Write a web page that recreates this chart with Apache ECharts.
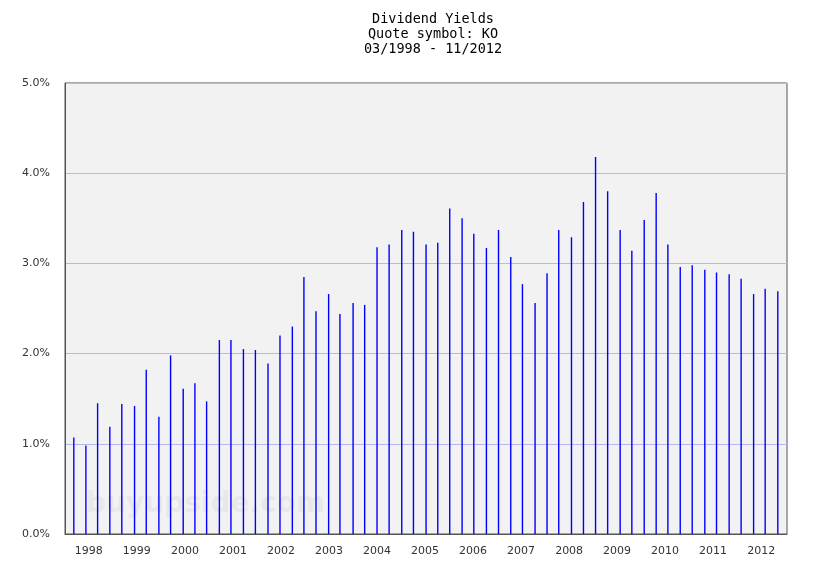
<!DOCTYPE html>
<html>
<head>
<meta charset="utf-8">
<script src="https://cdn.jsdelivr.net/npm/echarts@6/dist/echarts.min.js"></script>
<style>
  html, body { margin: 0; padding: 0; background: #fff; }
  #chart { width: 816px; height: 588px; }
</style>
</head>
<body>
<div id="chart"></div>
<script>
// dividend dates and yields in %
var dates = [
  '1998-03-09', '1998-06-09', '1998-09-06', '1998-12-08',
  '1999-03-09', '1999-06-14', '1999-09-11', '1999-12-16',
  '2000-03-14', '2000-06-18', '2000-09-15', '2000-12-13',
  '2001-03-20', '2001-06-16', '2001-09-19', '2001-12-19',
  '2002-03-25', '2002-06-24', '2002-09-26', '2002-12-23',
  '2003-03-25', '2003-06-29', '2003-09-23', '2004-01-01',
  '2004-03-29', '2004-07-01', '2004-10-01', '2005-01-05',
  '2005-04-04', '2005-07-09', '2005-10-06', '2006-01-05',
  '2006-04-09', '2006-07-07', '2006-10-11', '2007-01-11',
  '2007-04-14', '2007-07-12', '2007-10-16', '2008-01-15',
  '2008-04-13', '2008-07-19', '2008-10-18', '2009-01-18',
  '2009-04-20', '2009-07-24', '2009-10-21', '2010-01-23',
  '2010-04-24', '2010-07-22', '2010-10-24', '2011-01-23',
  '2011-04-29', '2011-07-27', '2011-10-31', '2012-01-30',
  '2012-05-04', '2012-07-31', '2012-11-04'
];
var yields = [
  1.07, 0.98, 1.45, 1.19, 1.44, 1.42, 1.82, 1.30,
  1.98, 1.61, 1.67, 1.47, 2.15, 2.15, 2.05, 2.04,
  1.89, 2.20, 2.30, 2.85, 2.47, 2.66, 2.44, 2.56,
  2.54, 3.18, 3.21, 3.37, 3.35, 3.21, 3.23, 3.61,
  3.50, 3.33, 3.17, 3.37, 3.07, 2.77, 2.56, 2.89,
  3.37, 3.29, 3.68, 4.18, 3.80, 3.37, 3.14, 3.48,
  3.78, 3.21, 2.96, 2.98, 2.93, 2.90, 2.88, 2.83,
  2.66, 2.72, 2.69
];
var years = [1998, 1999, 2000, 2001, 2002, 2003, 2004, 2005, 2006, 2007, 2008, 2009, 2010, 2011, 2012];
var yTicks = [0, 1, 2, 3, 4, 5];

function ts(s) {
  return new Date(s + 'T00:00:00Z').getTime();
}

var chart = echarts.init(document.getElementById('chart'));

var seriesData = dates.map(function (d, i) {
  return [ts(d), yields[i]];
});
// year labels sit in the middle of each year
var yearMid = years.map(function (y) {
  return Date.UTC(y, 6, 1);
});

var option = {
  backgroundColor: '#ffffff',
  animation: false,
  title: {
    text: 'Dividend Yields\nQuote symbol: KO\n03/1998 - 11/2012',
    left: 428,
    textAlign: 'center',
    top: 7,
    textStyle: {
      fontFamily: 'DejaVu Sans Mono',
      fontSize: 13.5,
      fontWeight: 'normal',
      color: '#000',
      lineHeight: 15
    }
  },
  grid: {
    left: 65,
    top: 83,
    right: 29,
    bottom: 54,
    show: true,
    backgroundColor: '#f2f2f2',
    borderColor: '#555',
    borderWidth: 1
  },
  graphic: [{
    type: 'text',
    left: 86,
    top: 491,
    z: 1,
    style: {
      text: 'buyupside.com',
      font: 'bold 28px "DejaVu Sans"',
      fill: '#e8e8e8'
    }
  }],
  xAxis: {
    type: 'value',
    min: ts('1998-01-01'),
    max: ts('2013-01-13'),
    axisLine: { show: true, lineStyle: { color: '#555' } },
    axisTick: { show: false },
    splitLine: { show: false },
    axisLabel: {
      customValues: yearMid,
      margin: 12,
      fontFamily: 'DejaVu Sans',
      fontSize: 11,
      color: '#333',
      formatter: function (v) {
        return String(new Date(v).getUTCFullYear());
      }
    }
  },
  yAxis: {
    type: 'value',
    min: yTicks[0],
    max: yTicks[yTicks.length - 1],
    interval: 1,
    axisLine: { show: true, lineStyle: { color: '#555' } },
    axisTick: { show: false },
    splitLine: { show: true, lineStyle: { color: '#b8b8f0', width: 1 } },
    axisLabel: {
      margin: 15,
      fontFamily: 'DejaVu Sans',
      fontSize: 11,
      color: '#333',
      formatter: function (v) {
        return v.toFixed(1) + '%';
      }
    }
  },
  series: [{
    type: 'bar',
    data: seriesData,
    barWidth: 1.4,
    z: 3,
    itemStyle: { color: '#0000ff' }
  }]
};

chart.setOption(option);
</script>
</body>
</html>
